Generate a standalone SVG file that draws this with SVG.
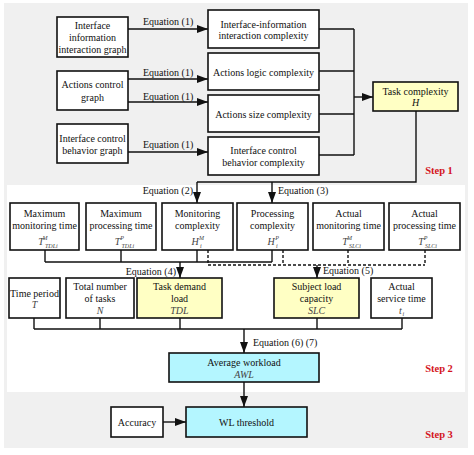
<svg xmlns="http://www.w3.org/2000/svg" width="474" height="455" viewBox="0 0 474 455" font-family="'Liberation Serif', 'Times New Roman', serif">
<style>
text{font-family:'Liberation Serif','Times New Roman',serif;font-size:10px;fill:#111;text-anchor:middle}
.lbl{text-anchor:start}
.r{text-anchor:end}
.step{font-weight:bold;fill:#d4141e;font-size:10.5px}
.box{fill:#fff;stroke:#111;stroke-width:1.6}
.yel{fill:#ffffc4;stroke:#111;stroke-width:1.6}
.cyan{fill:#b4f6ff;stroke:#111;stroke-width:1.6}
.sym{font-style:italic;fill:#444}
.sm{font-size:6px}
.ln{fill:none;stroke:#111;stroke-width:1.4}
.ds{fill:none;stroke:#111;stroke-width:1.4;stroke-dasharray:3,2}
</style>
<defs>
<marker id="ah" markerUnits="userSpaceOnUse" markerWidth="11" markerHeight="8" refX="11" refY="4" orient="auto">
<path d="M0,0 L11,4 L0,8 z" fill="#111"/>
</marker>
</defs>
<rect x="0" y="0" width="474" height="455" fill="#fff"/>
<rect x="4" y="3" width="464" height="445" fill="#f0f0f0"/>
<rect x="7" y="185" width="458" height="207" fill="#fff"/>

<g id="connectors">
<path class="ln" d="M128,29 H208" marker-end="url(#ah)"/>
<path class="ln" d="M128,79 H208" marker-end="url(#ah)"/>
<path class="ln" d="M128,102 H208" marker-end="url(#ah)"/>
<path class="ln" d="M128,152 H208" marker-end="url(#ah)"/>
<path class="ln" d="M319,29 H354 M319,71 H354 M319,114 H354 M319,155 H354 M354,29 V155"/>
<path class="ln" d="M354,97 H373" marker-end="url(#ah)"/>
<path class="ln" d="M416,111 V182 H197"/>
<path class="ln" d="M197,182 V203" marker-end="url(#ah)"/>
<path class="ln" d="M272,182 V203" marker-end="url(#ah)"/>
<path class="ln" d="M45,250 V262 M121,250 V262 M197,250 V262 M272,250 V262 M45,262 H272"/>
<path class="ln" d="M180,262 V278" marker-end="url(#ah)"/>
<path class="ds" d="M208,250 V265 M283,250 V265 M348,250 V265 M425,250 V265 M208,265 H425"/>
<path class="ln" d="M317,265 V278" marker-end="url(#ah)"/>
<path class="ln" d="M34,318 V329 M100,318 V329 M180,318 V329 M317,318 V329 M402,318 V329 M34,329 H402"/>
<path class="ln" d="M244,329 V353" marker-end="url(#ah)"/>
<path class="ln" d="M244,382 V407" marker-end="url(#ah)"/>
<path class="ln" d="M163,422 H186" marker-end="url(#ah)"/>
<text class="lbl" x="143" y="25">Equation (1)</text>
<text class="lbl" x="143" y="76">Equation (1)</text>
<text class="lbl" x="143" y="100">Equation (1)</text>
<text class="lbl" x="143" y="148">Equation (1)</text>
<text class="r" x="193" y="194">Equation (2)</text>
<text class="lbl" x="278" y="194">Equation  (3)</text>
<text class="r" x="176" y="275">Equation  (4)</text>
<text class="lbl" x="323" y="274">Equation  (5)</text>
<text class="lbl" x="253" y="346">Equation  (6) (7)</text>
</g>

<g id="n-iiig"><rect class="box" x="57" y="17" width="71" height="40"/>
<text x="92.5" y="28.5">Interface</text><text x="92.5" y="40.5">information</text><text x="92.5" y="52.5">interaction graph</text></g>
<g id="n-acg"><rect class="box" x="57" y="71" width="71" height="39"/>
<text x="92.5" y="88">Actions control</text><text x="92.5" y="100.5">graph</text></g>
<g id="n-icbg"><rect class="box" x="57" y="124" width="71" height="39"/>
<text x="92.5" y="141.5">Interface control</text><text x="92.5" y="153.5">behavior graph</text></g>

<g id="n-iiic"><rect class="box" x="208" y="10" width="111" height="38"/>
<text x="263.5" y="27.5">Interface-information</text><text x="263.5" y="39">interaction complexity</text></g>
<g id="n-alc"><rect class="box" x="208" y="53" width="111" height="37"/>
<text x="263.5" y="75.5">Actions logic complexity</text></g>
<g id="n-asc"><rect class="box" x="208" y="95" width="111" height="37"/>
<text x="263.5" y="117.5">Actions size complexity</text></g>
<g id="n-icbc"><rect class="box" x="208" y="137" width="111" height="38"/>
<text x="263.5" y="153.5">Interface control</text><text x="263.5" y="165.5">behavior complexity</text></g>

<g id="n-tc"><rect class="yel" x="373" y="82" width="85" height="29"/>
<text x="415.5" y="94.5">Task complexity</text><text x="415.5" y="106" style="font-style:italic">H</text></g>

<g id="n-mmt"><rect class="box" x="10" y="203" width="69" height="47"/>
<text x="44.5" y="217">Maximum</text><text x="44.5" y="229">monitoring time</text>
<text class="sym" x="41" y="245">T</text><text class="sym sm" x="45" y="240">M</text><text class="sym sm" x="45" y="247.5" style="text-anchor:start">TDLi</text></g>
<g id="n-mpt"><rect class="box" x="86" y="203" width="70" height="47"/>
<text x="121" y="217">Maximum</text><text x="121" y="229">processing time</text>
<text class="sym" x="117.5" y="245">T</text><text class="sym sm" x="122" y="240">P</text><text class="sym sm" x="121.5" y="247.5" style="text-anchor:start">TDLi</text></g>
<g id="n-mc"><rect class="box" x="162" y="203" width="71" height="47"/>
<text x="197.5" y="217">Monitoring</text><text x="197.5" y="229">complexity</text>
<text class="sym" x="195" y="245">H</text><text class="sym sm" x="201.5" y="240">M</text><text class="sym sm" x="200" y="247.5" style="text-anchor:start">i</text></g>
<g id="n-pc"><rect class="box" x="237" y="203" width="71" height="47"/>
<text x="272.5" y="217">Processing</text><text x="272.5" y="229">complexity</text>
<text class="sym" x="271" y="245">H</text><text class="sym sm" x="277" y="240">P</text><text class="sym sm" x="276" y="247.5" style="text-anchor:start">i</text></g>
<g id="n-amt"><rect class="box" x="313" y="203" width="71" height="47"/>
<text x="348.5" y="217">Actual</text><text x="348.5" y="229">monitoring time</text>
<text class="sym" x="345" y="245">T</text><text class="sym sm" x="349.5" y="240">M</text><text class="sym sm" x="349" y="247.5" style="text-anchor:start">SLCi</text></g>
<g id="n-apt"><rect class="box" x="389" y="203" width="71" height="47"/>
<text x="424.5" y="217">Actual</text><text x="424.5" y="229">processing time</text>
<text class="sym" x="421" y="245">T</text><text class="sym sm" x="425.5" y="240">P</text><text class="sym sm" x="425" y="247.5" style="text-anchor:start">SLCi</text></g>

<g id="n-tp"><rect class="box" x="9" y="278" width="51" height="40"/>
<text x="34.5" y="296.5">Time period</text><text x="34.5" y="308" class="sym">T</text></g>
<g id="n-tn"><rect class="box" x="66" y="278" width="68" height="40"/>
<text x="100" y="289.5">Total  number</text><text x="100" y="301.5">of tasks</text><text x="100" y="313.5" class="sym">N</text></g>
<g id="n-tdl"><rect class="yel" x="137" y="278" width="85" height="40"/>
<text x="179.5" y="289.5">Task demand</text><text x="179.5" y="301.5">load</text><text x="179.5" y="313.5" class="sym">TDL</text></g>
<g id="n-slc"><rect class="yel" x="274" y="278" width="85" height="40"/>
<text x="316.5" y="289.5">Subject load</text><text x="316.5" y="301.5">capacity</text><text x="316.5" y="313.5" class="sym">SLC</text></g>
<g id="n-ast"><rect class="box" x="371" y="278" width="61" height="40"/>
<text x="401.5" y="289.5">Actual</text><text x="401.5" y="301.5">service time</text>
<text class="sym" x="400.5" y="313.5">t</text><text class="sym sm" x="402.5" y="315.5" style="text-anchor:start">i</text></g>

<g id="n-awl"><rect class="cyan" x="169" y="353" width="150" height="29"/>
<text x="244" y="365.5">Average workload</text><text x="244" y="377.5" class="sym">AWL</text></g>
<g id="n-acc"><rect class="box" x="111" y="407" width="52" height="30"/>
<text x="137" y="425.5">Accuracy</text></g>
<g id="n-wl"><rect class="cyan" x="186" y="407" width="121" height="30"/>
<text x="246.5" y="425.5">WL threshold</text></g>

<g id="steps">
<text class="step" x="439" y="174">Step 1</text>
<text class="step" x="439" y="372">Step 2</text>
<text class="step" x="439" y="438">Step 3</text>
</g>
</svg>
